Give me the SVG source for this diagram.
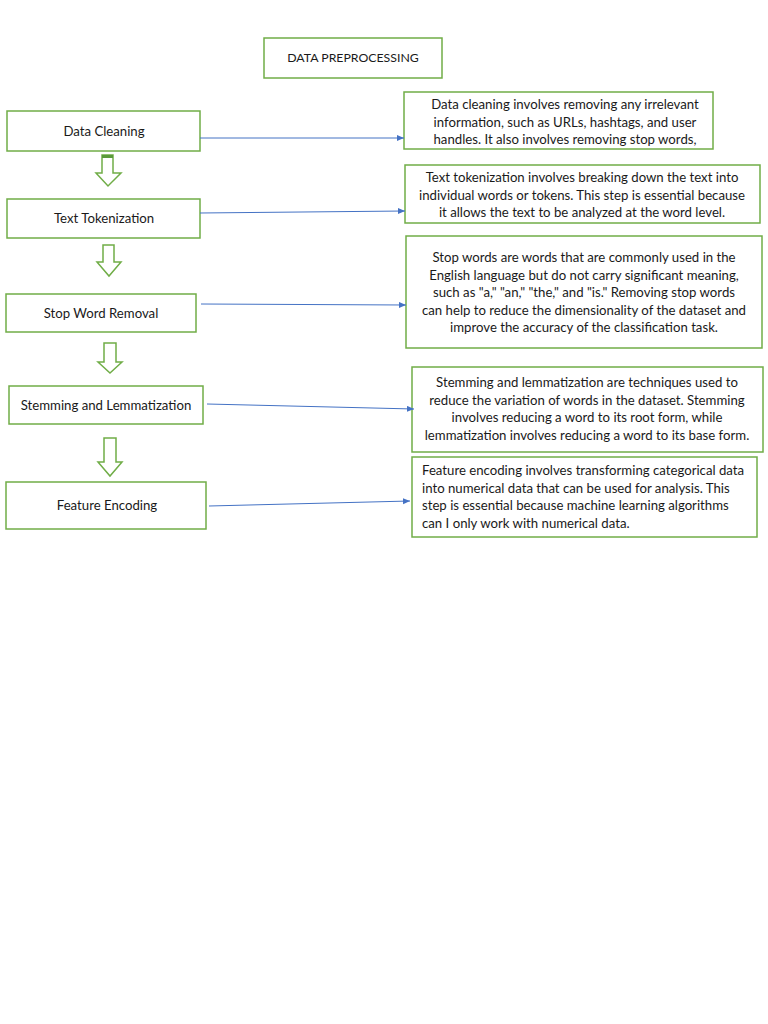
<svg xmlns="http://www.w3.org/2000/svg" width="768" height="1024" viewBox="0 0 768 1024">
<style>
.box{fill:#fff;stroke:#70ad47;stroke-width:1.5}
.t{font-family:Lato,"Liberation Sans",sans-serif;font-size:13.2px;fill:#1a1a1a}
.c{text-anchor:middle}
.blk{fill:#fff;stroke:#70ad47;stroke-width:1.5;stroke-linejoin:miter}
.con{stroke:#4472c4;stroke-width:1;fill:none;marker-end:url(#ah)}
</style>
<defs>
<marker id="ah" markerWidth="8" markerHeight="8" refX="7" refY="3" orient="auto" markerUnits="userSpaceOnUse">
<path d="M0,0 L7,3 L0,6 z" fill="#4472c4"/>
</marker>
<clipPath id="clip1"><rect x="404" y="92" width="309" height="56"/></clipPath>
</defs>
<rect width="768" height="1024" fill="#fff"/>

<g id="title"><rect class="box" x="264" y="38" width="178" height="40"/><text class="t c" x="353" y="62" style="font-size:12.3px">DATA PREPROCESSING</text></g>

<g id="n-cleaning"><rect class="box" x="7" y="111" width="193" height="40"/><text class="t c" x="104" y="136">Data Cleaning</text></g>
<g id="n-token"><rect class="box" x="7" y="199" width="193" height="39"/><text class="t c" x="104" y="223">Text Tokenization</text></g>
<g id="n-stop"><rect class="box" x="6" y="294" width="190" height="38"/><text class="t c" x="101" y="318">Stop Word Removal</text></g>
<g id="n-stem"><rect class="box" x="9" y="386" width="194" height="38"/><text class="t c" x="106" y="410">Stemming and Lemmatization</text></g>
<g id="n-feat"><rect class="box" x="6" y="482" width="200" height="47"/><text class="t c" x="107" y="510">Feature Encoding</text></g>

<g id="d-cleaning"><rect class="box" x="404" y="92" width="309" height="57"/>
<g clip-path="url(#clip1)"><text class="t c" x="565" y="109"><tspan x="565" dy="0">Data cleaning involves removing any irrelevant</tspan><tspan x="565" dy="17.5">information, such as URLs, hashtags, and user</tspan><tspan x="565" dy="17.5">handles. It also involves removing stop words,</tspan></text></g></g>

<g id="d-token"><rect class="box" x="405" y="165" width="355" height="58"/>
<text class="t c" x="582" y="182"><tspan x="582" dy="0">Text tokenization involves breaking down the text into</tspan><tspan x="582" dy="17.5">individual words or tokens. This step is essential because</tspan><tspan x="582" dy="17.5">it allows the text to be analyzed at the word level.</tspan></text></g>

<g id="d-stop"><rect class="box" x="406" y="236" width="356" height="112"/>
<text class="t c" x="584" y="262"><tspan x="584" dy="0">Stop words are words that are commonly used in the</tspan><tspan x="584" dy="17.5">English language but do not carry significant meaning,</tspan><tspan x="584" dy="17.5">such as "a," "an," "the," and "is." Removing stop words</tspan><tspan x="584" dy="17.5">can help to reduce the dimensionality of the dataset and</tspan><tspan x="584" dy="17.5">improve the accuracy of the classification task.</tspan></text></g>

<g id="d-stem"><rect class="box" x="412" y="367" width="351" height="85"/>
<text class="t c" x="587" y="387"><tspan x="587" dy="0">Stemming and lemmatization are techniques used to</tspan><tspan x="587" dy="17.7">reduce the variation of words in the dataset. Stemming</tspan><tspan x="587" dy="17.7">involves reducing a word to its root form, while</tspan><tspan x="587" dy="17.7">lemmatization involves reducing a word to its base form.</tspan></text></g>

<g id="d-feat"><rect class="box" x="412" y="457" width="345" height="80"/>
<text class="t" x="422" y="475"><tspan x="422" dy="0">Feature encoding involves transforming categorical data</tspan><tspan x="422" dy="17.7">into numerical data that can be used for analysis. This</tspan><tspan x="422" dy="17.7">step is essential because machine learning algorithms</tspan><tspan x="422" dy="17.7">can I only work with numerical data.</tspan></text></g>

<g id="flow-arrows">
<path class="blk" d="M102,155 H113 V173 H121 L108,186 L96,173 H102 Z"/>
<rect x="102" y="155" width="11" height="3" fill="#5a9a3a"/>
<path class="blk" d="M103,245 H114 V262 H121 L109,276 L97,262 H103 Z"/>
<path class="blk" d="M104,343 H116 V362 H122 L110,373 L98,362 H104 Z"/>
<path class="blk" d="M104,438 H116 V462 H122 L110,476 L98,462 H104 Z"/>
</g>

<g id="connectors">
<line class="con" x1="200" y1="138" x2="404" y2="138"/>
<line class="con" x1="200" y1="213" x2="405" y2="211"/>
<line class="con" x1="201" y1="304" x2="406" y2="305"/>
<line class="con" x1="207" y1="404" x2="414" y2="409"/>
<line class="con" x1="209" y1="506" x2="410" y2="501"/>
</g>
</svg>
